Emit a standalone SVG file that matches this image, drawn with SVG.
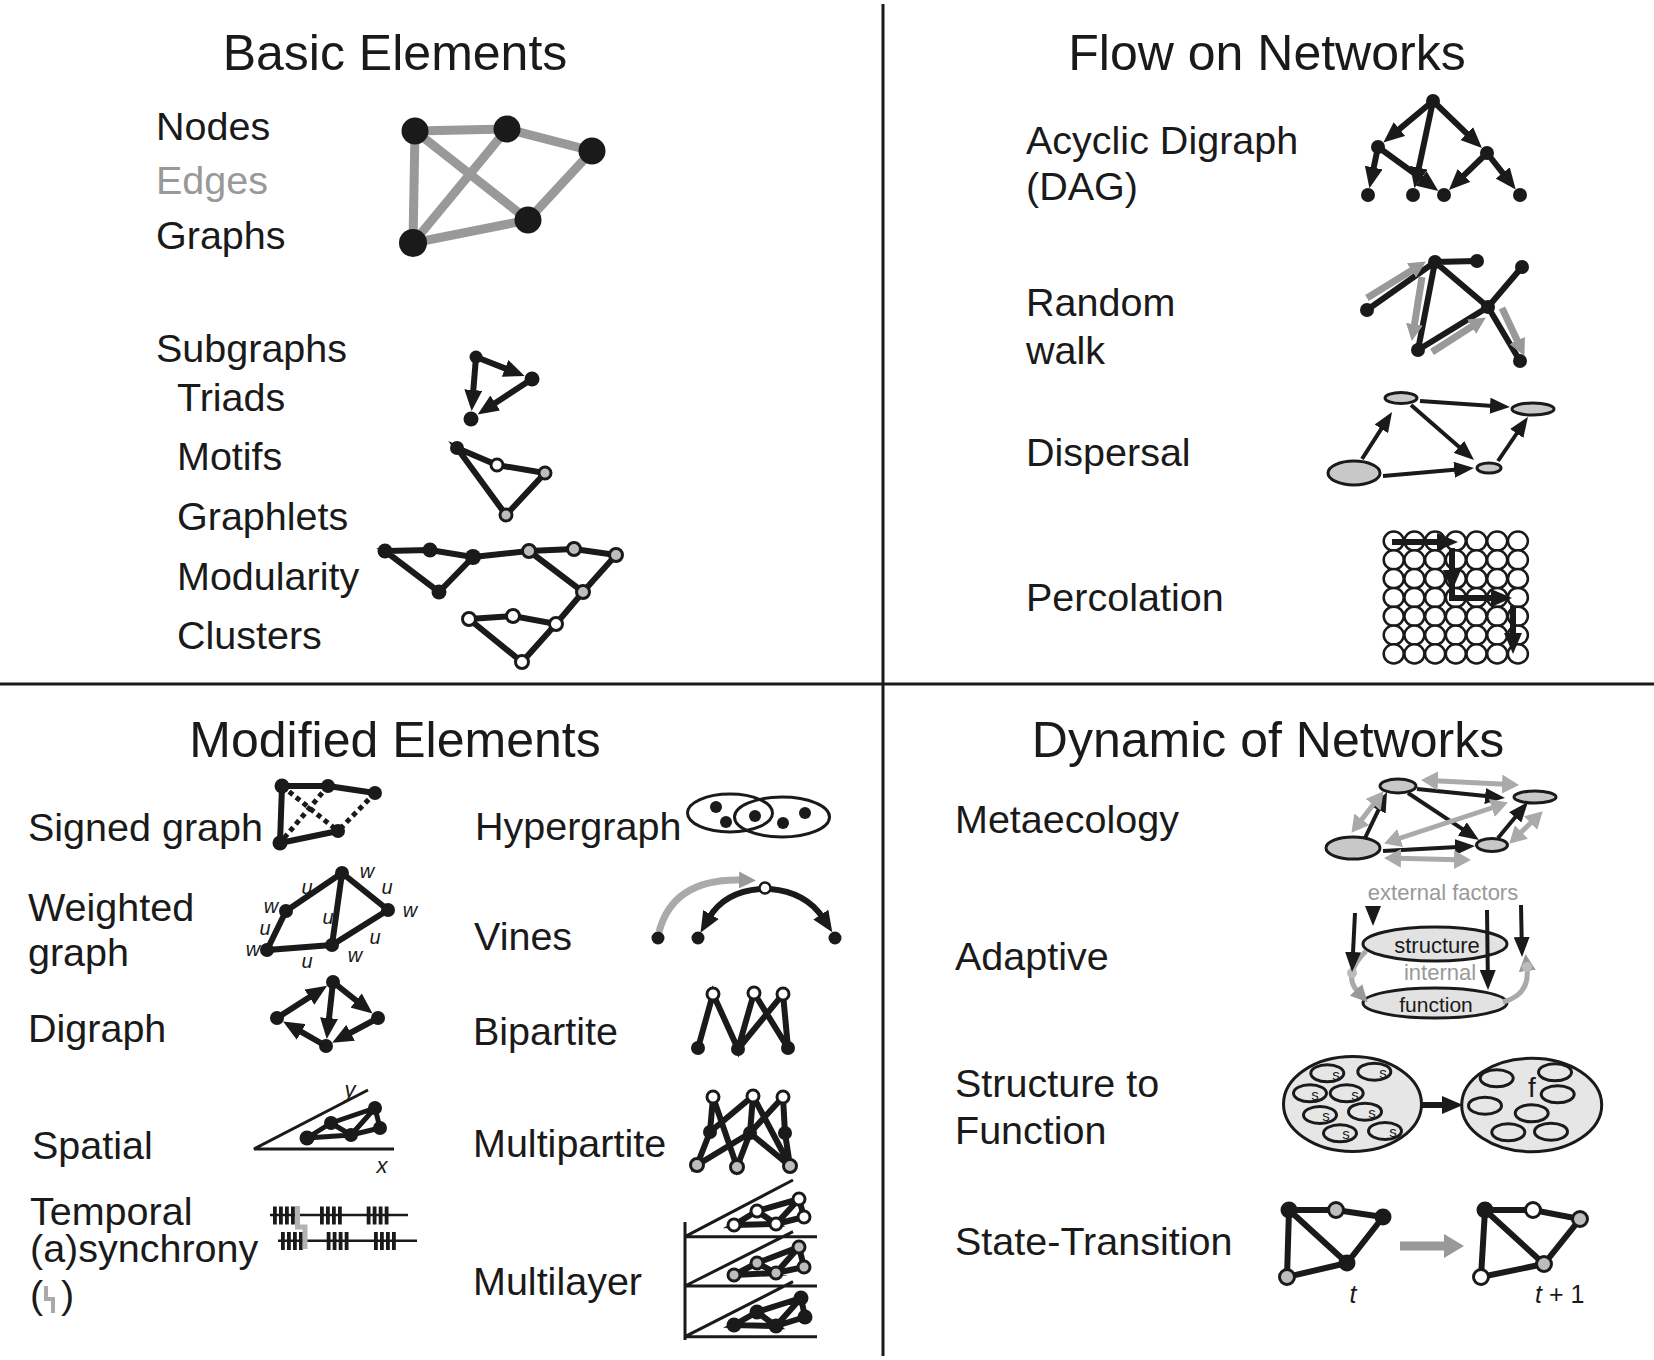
<svg xmlns="http://www.w3.org/2000/svg" width="1654" height="1360" viewBox="0 0 1654 1360">
<style>
text{font-family:"Liberation Sans",Arial,Helvetica,sans-serif;fill:#1a1a1a}
.ti{font-size:50px;text-anchor:middle}
.lb{font-size:39.5px}
.it{font-style:italic}
.k{stroke:#1a1a1a;stroke-width:6;stroke-linecap:round;fill:none}
.kb{stroke:#1a1a1a;stroke-width:6;fill:none}
.k4{stroke:#1a1a1a;stroke-width:4;fill:none}
.ge{stroke:#999;stroke-width:9;fill:none}
.ga{stroke:#999;stroke-width:7;fill:none}
.gm{stroke:#aaa;stroke-width:5;fill:none}
.nb{fill:#1a1a1a}
.nw{fill:#fff;stroke:#1a1a1a;stroke-width:3}
.ng{fill:#bdbdbd;stroke:#1a1a1a;stroke-width:3}
.el{fill:#c8c8c8;stroke:#1a1a1a;stroke-width:3}
.dv{stroke:#1a1a1a;stroke-width:3}
</style>
<defs>
<marker id="a1" markerUnits="userSpaceOnUse" markerWidth="21" markerHeight="18" refX="4" refY="9" orient="auto"><path d="M0,0 L21,9 L0,18 z" fill="#1a1a1a"/></marker>
<marker id="a2" markerUnits="userSpaceOnUse" markerWidth="20" markerHeight="16" refX="3" refY="8" orient="auto"><path d="M0,0 L20,8 L0,16 z" fill="#1a1a1a"/></marker>
<marker id="ag" markerUnits="userSpaceOnUse" markerWidth="17" markerHeight="17" refX="3" refY="8.5" orient="auto-start-reverse"><path d="M0,0 L17,8.5 L0,17 z" fill="#999"/></marker>
<marker id="agl" markerUnits="userSpaceOnUse" markerWidth="17" markerHeight="19" refX="3" refY="9.5" orient="auto-start-reverse"><path d="M0,0 L17,9.5 L0,19 z" fill="#aaa"/></marker>
<marker id="ag2" markerUnits="userSpaceOnUse" markerWidth="20" markerHeight="24" refX="3" refY="12" orient="auto"><path d="M0,0 L20,12 L0,24 z" fill="#999"/></marker>
<g id="tk" fill="#1a1a1a"><rect x="0" y="0" width="3.8" height="18"/><rect x="6" y="0" width="3.8" height="18"/><rect x="12" y="0" width="3.8" height="18"/><rect x="18" y="0" width="3.8" height="18"/></g>
<g id="row0"><ellipse cx="1393.7" cy="541.1" rx="10" ry="9.6"/><ellipse cx="1414.4" cy="541.1" rx="10" ry="9.6"/><ellipse cx="1435.1" cy="541.1" rx="10" ry="9.6"/><ellipse cx="1455.8" cy="541.1" rx="10" ry="9.6"/><ellipse cx="1476.5" cy="541.1" rx="10" ry="9.6"/><ellipse cx="1497.2" cy="541.1" rx="10" ry="9.6"/><ellipse cx="1517.9" cy="541.1" rx="10" ry="9.6"/></g>
</defs>
<rect width="1654" height="1360" fill="#fff"/>

<g id="dividers">
<line class="dv" x1="883" y1="4" x2="883" y2="1356"/>
<line class="dv" x1="0" y1="684" x2="1654" y2="684"/>
</g>

<g id="titles">
<text class="ti" x="395" y="70">Basic Elements</text>
<text class="ti" x="1267" y="70">Flow on Networks</text>
<text class="ti" x="395" y="757">Modified Elements</text>
<text class="ti" x="1268" y="757">Dynamic of Networks</text>
</g>

<g id="labels">
<text class="lb" x="156" y="140">Nodes</text>
<text class="lb" x="156" y="194" style="fill:#999">Edges</text>
<text class="lb" x="156" y="249">Graphs</text>
<text class="lb" x="156" y="362">Subgraphs</text>
<text class="lb" x="177" y="411">Triads</text>
<text class="lb" x="177" y="470">Motifs</text>
<text class="lb" x="177" y="530">Graphlets</text>
<text class="lb" x="177" y="590">Modularity</text>
<text class="lb" x="177" y="649">Clusters</text>
<text class="lb" x="1026" y="154">Acyclic Digraph</text>
<text class="lb" x="1026" y="200">(DAG)</text>
<text class="lb" x="1026" y="316">Random</text>
<text class="lb" x="1026" y="364">walk</text>
<text class="lb" x="1026" y="466">Dispersal</text>
<text class="lb" x="1026" y="611">Percolation</text>
<text class="lb" x="28" y="841">Signed graph</text>
<text class="lb" x="28" y="921">Weighted</text>
<text class="lb" x="28" y="966">graph</text>
<text class="lb" x="28" y="1042">Digraph</text>
<text class="lb" x="32" y="1159">Spatial</text>
<text class="lb" x="30" y="1225">Temporal</text>
<text class="lb" x="30" y="1262">(a)synchrony</text>
<text class="lb" x="30" y="1308">(</text>
<polyline points="46,1286 46,1299 53,1299 53,1313" fill="none" stroke="#aaa" stroke-width="4"/>
<text class="lb" x="61" y="1308">)</text>
<text class="lb" x="475" y="840">Hypergraph</text>
<text class="lb" x="474" y="950">Vines</text>
<text class="lb" x="473" y="1045">Bipartite</text>
<text class="lb" x="473" y="1157">Multipartite</text>
<text class="lb" x="473" y="1295">Multilayer</text>
<text class="lb" x="955" y="833">Metaecology</text>
<text class="lb" x="955" y="970">Adaptive</text>
<text class="lb" x="955" y="1097">Structure to</text>
<text class="lb" x="955" y="1144">Function</text>
<text class="lb" x="955" y="1255">State-Transition</text>
</g>

<g id="basic-graph">
<path class="ge" d="M415,131 L507,129 L592,151 L528,220 L413,243 Z M415,131 L528,220 M507,129 L413,243"/>
<circle class="nb" cx="415" cy="131" r="13.5"/>
<circle class="nb" cx="507" cy="129" r="13.5"/>
<circle class="nb" cx="592" cy="151" r="13.5"/>
<circle class="nb" cx="528" cy="220" r="13.5"/>
<circle class="nb" cx="413" cy="243" r="14"/>
</g>

<g id="triad">
<line class="kb" x1="476" y1="357" x2="508.8" y2="369.9" marker-end="url(#a1)"/>
<line class="kb" x1="476" y1="357" x2="473" y2="394" marker-end="url(#a1)"/>
<line class="kb" x1="532" y1="379" x2="491.9" y2="405.2" marker-end="url(#a1)"/>
<circle class="nb" cx="476" cy="357" r="6.5"/>
<circle class="nb" cx="532" cy="379" r="7.5"/>
<circle class="nb" cx="471" cy="419" r="7.5"/>
</g>

<g id="motif">
<path class="k" d="M457,448 L497,465 L545,473 L506,515 Z"/>
<circle class="nb" cx="457" cy="448" r="7"/>
<circle class="nw" cx="497" cy="465" r="6"/>
<circle class="ng" cx="545" cy="473" r="6"/>
<circle class="ng" cx="506" cy="515" r="6"/>
</g>

<g id="modularity-clusters">
<path class="k" d="M385,551 L430,550 L473,557 L439,592 Z M473,557 L529,551 L574,549 L616,555 L583,592 L529,551 M583,592 L556,624 L513,616 L469,619 L522,662 L556,624"/>
<circle class="nb" cx="385" cy="551" r="7.5"/>
<circle class="nb" cx="430" cy="550" r="7.5"/>
<circle class="nb" cx="473" cy="557" r="8"/>
<circle class="nb" cx="439" cy="592" r="7.5"/>
<circle class="ng" cx="529" cy="551" r="6.5"/>
<circle class="ng" cx="574" cy="549" r="6.5"/>
<circle class="ng" cx="616" cy="555" r="6.5"/>
<circle class="ng" cx="583" cy="592" r="6.5"/>
<circle class="nw" cx="469" cy="619" r="6.5"/>
<circle class="nw" cx="513" cy="616" r="6.5"/>
<circle class="nw" cx="556" cy="624" r="6.5"/>
<circle class="nw" cx="522" cy="662" r="6.5"/>
</g>

<g id="dag">
<line class="kb" x1="1433" y1="101" x2="1396.4" y2="131.6" marker-end="url(#a1)"/>
<line class="kb" x1="1433" y1="101" x2="1418" y2="171.6" marker-end="url(#a1)"/>
<line class="kb" x1="1378" y1="147" x2="1424.6" y2="180.9" marker-end="url(#a1)"/>
<line class="kb" x1="1378" y1="147" x2="1372.9" y2="171.5" marker-end="url(#a1)"/>
<line class="kb" x1="1433" y1="101" x2="1469.7" y2="136.3" marker-end="url(#a1)"/>
<line class="kb" x1="1487" y1="153" x2="1461.1" y2="178.2" marker-end="url(#a1)"/>
<line class="kb" x1="1487" y1="153" x2="1505.2" y2="176.1" marker-end="url(#a1)"/>
<circle class="nb" cx="1433" cy="101" r="7"/>
<circle class="nb" cx="1378" cy="147" r="7"/>
<circle class="nb" cx="1487" cy="153" r="7"/>
<circle class="nb" cx="1368" cy="195" r="7"/>
<circle class="nb" cx="1413" cy="195" r="7"/>
<circle class="nb" cx="1444" cy="195" r="7"/>
<circle class="nb" cx="1520" cy="195" r="7"/>
</g>

<g id="random-walk">
<path class="k" d="M1367,310 L1435,262 L1477,261 M1435,262 L1418,350 L1488,307 L1435,262 M1488,307 L1522,267 M1488,307 L1520,361"/>
<circle class="nb" cx="1435" cy="262" r="7"/>
<circle class="nb" cx="1477" cy="261" r="7"/>
<circle class="nb" cx="1522" cy="267" r="7"/>
<circle class="nb" cx="1367" cy="310" r="7"/>
<circle class="nb" cx="1488" cy="307" r="7"/>
<circle class="nb" cx="1418" cy="350" r="7"/>
<circle class="nb" cx="1520" cy="361" r="7"/>
<line class="ga" x1="1367" y1="298" x2="1414" y2="268.9" marker-end="url(#ag)"/>
<line class="ga" x1="1422" y1="277" x2="1414" y2="327.2" marker-end="url(#ag)"/>
<line class="ga" x1="1432" y1="352" x2="1474.1" y2="325" marker-end="url(#ag)"/>
<line class="ga" x1="1502" y1="308" x2="1518.5" y2="343.2" marker-end="url(#ag)"/>
</g>

<g id="dispersal">
<line class="k4" x1="1362" y1="459" x2="1382.9" y2="426.3" marker-end="url(#a2)"/>
<line class="k4" x1="1420" y1="401" x2="1493" y2="405.9" marker-end="url(#a2)"/>
<line class="k4" x1="1411" y1="405" x2="1461.2" y2="448.8" marker-end="url(#a2)"/>
<line class="k4" x1="1383" y1="476" x2="1457.1" y2="469.5" marker-end="url(#a2)"/>
<line class="k4" x1="1498" y1="461" x2="1518.4" y2="431" marker-end="url(#a2)"/>
<ellipse class="el" cx="1401" cy="398" rx="16" ry="5.5"/>
<ellipse class="el" cx="1533" cy="409" rx="21" ry="6"/>
<ellipse class="el" cx="1354" cy="473" rx="26" ry="12"/>
<ellipse class="el" cx="1489" cy="468" rx="12" ry="5"/>
</g>

<g id="percolation" fill="#fff" stroke="#1a1a1a" stroke-width="2.5">
<use href="#row0"/>
<use href="#row0" y="18.8"/>
<use href="#row0" y="37.6"/>
<use href="#row0" y="56.4"/>
<use href="#row0" y="75.2"/>
<use href="#row0" y="94"/>
<use href="#row0" y="112.8"/>
<line class="kb" x1="1392" y1="542" x2="1441" y2="542" stroke-width="7" marker-end="url(#a1)"/>
<line class="kb" x1="1452" y1="548" x2="1452" y2="574" stroke-width="7" marker-end="url(#a1)"/>
<line class="kb" x1="1452" y1="580" x2="1452" y2="601" stroke-width="7"/>
<line class="kb" x1="1449" y1="598" x2="1495" y2="598" stroke-width="7" marker-end="url(#a1)"/>
<line class="kb" x1="1513" y1="606" x2="1513" y2="637" stroke-width="7" marker-end="url(#a1)"/>
</g>

<g id="signed-graph">
<path class="k" d="M328,786 L282,786 L280,843 L338,831 M328,786 L375,793"/>
<path d="M282,786 L338,831 M328,786 L280,843 M375,793 L338,831" fill="none" stroke="#1a1a1a" stroke-width="5" stroke-dasharray="5 4"/>
<circle class="nb" cx="282" cy="786" r="7.5"/>
<circle class="nb" cx="328" cy="786" r="7"/>
<circle class="nb" cx="375" cy="793" r="7"/>
<circle class="nb" cx="338" cy="831" r="7"/>
<circle class="nb" cx="280" cy="843" r="7.5"/>
</g>

<g id="weighted-graph">
<path class="k" d="M342,873 L388,910 L332,945 Z M342,873 L286,911 L267,950 L332,945"/>
<circle class="nb" cx="342" cy="873" r="7"/>
<circle class="nb" cx="388" cy="910" r="7"/>
<circle class="nb" cx="332" cy="945" r="7"/>
<circle class="nb" cx="286" cy="911" r="7"/>
<circle class="nb" cx="267" cy="950" r="7"/>
<g class="it" font-size="20" text-anchor="middle">
<text x="367" y="878">w</text><text x="387" y="894">u</text><text x="410" y="917">w</text>
<text x="307" y="894">u</text><text x="328" y="924">u</text><text x="271" y="913">w</text>
<text x="265" y="935">u</text><text x="253" y="956">w</text><text x="307" y="968">u</text>
<text x="355" y="962">w</text><text x="375" y="944">u</text>
</g>
</g>

<g id="digraph">
<line class="kb" x1="277" y1="1018" x2="312.8" y2="995" marker-end="url(#a1)"/>
<line class="kb" x1="333" y1="982" x2="359.3" y2="1003" marker-end="url(#a1)"/>
<line class="kb" x1="333" y1="982" x2="328.6" y2="1022.1" marker-end="url(#a1)"/>
<line class="kb" x1="378" y1="1018" x2="347.1" y2="1034.7" marker-end="url(#a1)"/>
<line class="kb" x1="326" y1="1046" x2="297.8" y2="1029.9" marker-end="url(#a1)"/>
<circle class="nb" cx="333" cy="982" r="7"/>
<circle class="nb" cx="277" cy="1018" r="7"/>
<circle class="nb" cx="378" cy="1018" r="7"/>
<circle class="nb" cx="326" cy="1046" r="7"/>
</g>

<g id="spatial">
<path d="M394,1149 L254,1149 L368,1090" fill="none" stroke="#1a1a1a" stroke-width="3"/>
<text class="it" x="350" y="1097" font-size="22" text-anchor="middle">y</text>
<text class="it" x="382" y="1173" font-size="22" text-anchor="middle">x</text>
<path d="M307,1138 L331,1123 L351,1135 Z M351,1135 L380,1128 L375,1108 L331,1123 M351,1135 L375,1108" fill="none" stroke="#1a1a1a" stroke-width="5" stroke-linejoin="round"/>
<circle class="nb" cx="307" cy="1138" r="7.5"/>
<circle class="nb" cx="331" cy="1123" r="7"/>
<circle class="nb" cx="351" cy="1135" r="7"/>
<circle class="nb" cx="375" cy="1108" r="7"/>
<circle class="nb" cx="380" cy="1128" r="7"/>
</g>

<g id="temporal">
<line x1="270" y1="1215" x2="408" y2="1215" stroke="#1a1a1a" stroke-width="2.5"/>
<line x1="278" y1="1240.7" x2="417" y2="1240.7" stroke="#1a1a1a" stroke-width="2.5"/>
<use href="#tk" x="273" y="1206.5"/>
<use href="#tk" x="320" y="1206.5"/>
<use href="#tk" x="366.7" y="1206.5"/>
<use href="#tk" x="281" y="1232"/>
<use href="#tk" x="326.7" y="1232"/>
<use href="#tk" x="374" y="1232"/>
<polyline points="297.5,1206 297.5,1227 305,1227 305,1249" fill="none" stroke="#b3b3b3" stroke-width="5"/>
</g>

<g id="hypergraph">
<ellipse cx="730" cy="813" rx="42.5" ry="19" fill="none" stroke="#1a1a1a" stroke-width="3"/>
<ellipse cx="782" cy="817" rx="47.5" ry="20" fill="none" stroke="#1a1a1a" stroke-width="3"/>
<circle class="nb" cx="716" cy="807" r="6"/>
<circle class="nb" cx="726" cy="822" r="6"/>
<circle class="nb" cx="755" cy="816" r="6"/>
<circle class="nb" cx="783" cy="823" r="6"/>
<circle class="nb" cx="805" cy="813" r="6"/>
</g>

<g id="vines">
<path d="M659,932 Q673,878 742,880" fill="none" stroke="#aaa" stroke-width="7" marker-end="url(#ag)"/>
<path d="M760,889 Q724,892 709,918" class="kb" marker-end="url(#a1)"/>
<path d="M770,889 Q806,892 823,918" class="kb" marker-end="url(#a1)"/>
<circle class="nb" cx="658" cy="938" r="6.5"/>
<circle class="nb" cx="698" cy="938" r="6.5"/>
<circle class="nb" cx="835" cy="938" r="6.5"/>
<circle cx="765" cy="888" r="5.5" fill="#fff" stroke="#1a1a1a" stroke-width="2.5"/>
</g>

<g id="bipartite">
<path class="k" d="M698,1048 L713,994 L738,1049 L754,993 L788,1048 L783,994 L738,1049"/>
<circle class="nw" cx="713" cy="994" r="6"/>
<circle class="nw" cx="754" cy="993" r="6"/>
<circle class="nw" cx="783" cy="994" r="6"/>
<circle class="nb" cx="698" cy="1048" r="7"/>
<circle class="nb" cx="738" cy="1049" r="7"/>
<circle class="nb" cx="788" cy="1048" r="7"/>
</g>

<g id="multipartite">
<path class="k" d="M713,1097 L710,1132 L697,1165 L750,1133 L737,1167 L713,1097 M710,1132 L753,1096 L750,1133 L790,1166 L753,1096 M783,1097 L750,1133 M783,1097 L785,1133 L790,1166"/>
<circle class="nw" cx="713" cy="1097" r="6"/>
<circle class="nw" cx="753" cy="1096" r="6"/>
<circle class="nw" cx="783" cy="1097" r="6"/>
<circle class="nb" cx="710" cy="1132" r="7"/>
<circle class="nb" cx="750" cy="1133" r="7"/>
<circle class="nb" cx="785" cy="1133" r="7"/>
<circle class="ng" cx="697" cy="1165" r="6.5"/>
<circle class="ng" cx="737" cy="1167" r="6.5"/>
<circle class="ng" cx="790" cy="1166" r="6.5"/>
</g>

<g id="multilayer">
<path d="M685,1222 L685,1340 M685,1236.7 L817,1236.7 M685,1286 L817,1286 M685,1336.7 L817,1336.7 M685,1236.7 L793,1180 M685,1286 L793,1231.7 M685,1336.7 L793,1281.7" fill="none" stroke="#1a1a1a" stroke-width="3"/>
<path class="k" d="M734,1225 L757,1211 L776,1224 Z M776,1224 L804,1217 L799,1199 L757,1211 M776,1224 L799,1199 M734,1275 L757,1263 L776,1273 Z M776,1273 L804,1267 L799,1247 L757,1263 M776,1273 L799,1247 M734,1325 L757,1312 L776,1326 Z M776,1326 L805,1317 L801,1298 L757,1312 M776,1326 L801,1298" stroke-width="5"/>
<circle class="nw" cx="734" cy="1225" r="6"/><circle class="nw" cx="757" cy="1211" r="6"/><circle class="nw" cx="776" cy="1224" r="6"/><circle class="nw" cx="799" cy="1199" r="6"/><circle class="nw" cx="804" cy="1217" r="6"/>
<circle class="ng" cx="734" cy="1275" r="6"/><circle class="ng" cx="757" cy="1263" r="6"/><circle class="ng" cx="776" cy="1273" r="6"/><circle class="ng" cx="799" cy="1247" r="6"/><circle class="ng" cx="804" cy="1267" r="6"/>
<circle class="nb" cx="734" cy="1325" r="7.5"/><circle class="nb" cx="757" cy="1312" r="7.5"/><circle class="nb" cx="776" cy="1326" r="7.5"/><circle class="nb" cx="801" cy="1298" r="7.5"/><circle class="nb" cx="805" cy="1317" r="7.5"/>
</g>

<g id="metaecology">
<line class="k4" x1="1365" y1="838" x2="1379.7" y2="807.3" marker-end="url(#a2)"/>
<line class="k4" x1="1417" y1="789" x2="1488.1" y2="796.3" marker-end="url(#a2)"/>
<line class="k4" x1="1408" y1="793" x2="1464.8" y2="830.6" marker-end="url(#a2)"/>
<line class="k4" x1="1383" y1="851" x2="1458" y2="846.9" marker-end="url(#a2)"/>
<line class="k4" x1="1498" y1="838" x2="1517.1" y2="815" marker-end="url(#a2)"/>
<line class="gm" x1="1360" y1="821.7" x2="1375" y2="802.3" marker-start="url(#agl)" marker-end="url(#agl)"/>
<line class="gm" x1="1435" y1="780.7" x2="1505" y2="784.3" marker-start="url(#agl)" marker-end="url(#agl)"/>
<line class="gm" x1="1519.3" y1="834" x2="1532.7" y2="821" marker-start="url(#agl)" marker-end="url(#agl)"/>
<line class="gm" x1="1398" y1="858.3" x2="1457" y2="859.7" marker-start="url(#agl)" marker-end="url(#agl)"/>
<line class="gm" x1="1397.4" y1="839" x2="1494.6" y2="807" marker-start="url(#agl)" marker-end="url(#agl)"/>
<ellipse class="el" cx="1398" cy="786" rx="18" ry="7"/>
<ellipse class="el" cx="1535" cy="797" rx="21" ry="6"/>
<ellipse class="el" cx="1353" cy="848" rx="27" ry="11"/>
<ellipse class="el" cx="1492" cy="845" rx="15.5" ry="6.5"/>
</g>

<g id="adaptive">
<text x="1443" y="900" font-size="22" text-anchor="middle" style="fill:#999">external factors</text>
<ellipse cx="1435" cy="944" rx="72" ry="17" fill="#e2e2e2" stroke="#1a1a1a" stroke-width="3"/>
<ellipse cx="1435" cy="1003" rx="72" ry="15" fill="#e2e2e2" stroke="#1a1a1a" stroke-width="3"/>
<text x="1437" y="953" font-size="22" text-anchor="middle">structure</text>
<text x="1440" y="980" font-size="22" text-anchor="middle" style="fill:#999">internal</text>
<text x="1436" y="1012" font-size="21" text-anchor="middle">function</text>
<path d="M1366,951 Q1342,975 1358,992" fill="none" stroke="#aaa" stroke-width="5" marker-end="url(#ag)"/>
<path d="M1503,1002 Q1530,995 1527,968" fill="none" stroke="#aaa" stroke-width="5" marker-end="url(#ag)"/>
<circle cx="1352" cy="973" r="5" fill="#bbb"/>
<circle cx="1527" cy="967" r="5" fill="#bbb"/>
<line class="k4" x1="1355" y1="913" x2="1352.9" y2="955" marker-end="url(#a2)"/>
<line class="k4" x1="1373" y1="906" x2="1373" y2="909" marker-end="url(#a2)"/>
<line class="k4" x1="1487" y1="910" x2="1487.8" y2="973" marker-end="url(#a2)"/>
<line class="k4" x1="1521" y1="905" x2="1521.7" y2="940" marker-end="url(#a2)"/>
</g>

<g id="structure-function">
<ellipse cx="1352.5" cy="1104" rx="69" ry="47.5" fill="#e6e6e6" stroke="#1a1a1a" stroke-width="3"/>
<ellipse cx="1531.7" cy="1105" rx="70" ry="46.7" fill="#e6e6e6" stroke="#1a1a1a" stroke-width="3"/>
<line class="kb" x1="1422" y1="1105" x2="1446" y2="1105" stroke-width="7" marker-end="url(#a1)"/>
<g fill="none" stroke="#1a1a1a" stroke-width="3">
<ellipse cx="1327.3" cy="1073.3" rx="16.5" ry="8.5"/><ellipse cx="1374.3" cy="1071.7" rx="16.5" ry="8.5"/>
<ellipse cx="1310" cy="1093.3" rx="16.5" ry="8.5"/><ellipse cx="1346.7" cy="1093.3" rx="16.5" ry="8.5"/>
<ellipse cx="1320" cy="1115" rx="16.5" ry="8.5"/><ellipse cx="1365" cy="1111.7" rx="16.5" ry="8.5"/>
<ellipse cx="1340" cy="1133.3" rx="16.5" ry="8.5"/><ellipse cx="1385" cy="1131" rx="16.5" ry="8.5"/>
<ellipse cx="1496.7" cy="1078.3" rx="16.5" ry="8.5"/><ellipse cx="1555" cy="1072.3" rx="16.5" ry="8.5"/>
<ellipse cx="1485" cy="1105.7" rx="16.5" ry="8.5"/><ellipse cx="1557.7" cy="1094.3" rx="16.5" ry="8.5"/>
<ellipse cx="1531.7" cy="1113.3" rx="16.5" ry="8.5"/><ellipse cx="1508.3" cy="1132.3" rx="16.5" ry="8.5"/>
<ellipse cx="1551" cy="1131.7" rx="16.5" ry="8.5"/>
</g>
<g font-size="15" text-anchor="middle">
<text x="1336" y="1080">s</text><text x="1383" y="1078">s</text><text x="1315" y="1100">s</text><text x="1355" y="1100">s</text>
<text x="1326" y="1121">s</text><text x="1372" y="1118">s</text><text x="1346" y="1139">s</text><text x="1393" y="1137">s</text>
</g>
<text x="1532" y="1097" font-size="28" text-anchor="middle">f</text>
</g>

<g id="state-transition">
<path class="k" d="M1289,1210 L1336,1210 L1383,1217 L1347,1263 L1287,1277 Z M1289,1210 L1347,1263"/>
<circle class="nb" cx="1289" cy="1210" r="8.5"/>
<circle class="ng" cx="1336" cy="1210" r="7.5"/>
<circle class="nb" cx="1383" cy="1217" r="8.5"/>
<circle class="nb" cx="1347" cy="1263" r="8.5"/>
<circle class="ng" cx="1287" cy="1277" r="7.5"/>
<text class="it" x="1353" y="1303" font-size="25" text-anchor="middle">t</text>
<line x1="1400" y1="1246" x2="1447" y2="1246" stroke="#999" stroke-width="9" marker-end="url(#ag2)"/>
<path class="k" d="M1485,1210 L1533,1210 L1580,1219 L1544,1264 L1481,1277 Z M1485,1210 L1544,1264"/>
<circle class="nb" cx="1485" cy="1210" r="8.5"/>
<circle class="nw" cx="1533" cy="1210" r="7.5"/>
<circle class="ng" cx="1580" cy="1219" r="7.5"/>
<circle class="ng" cx="1544" cy="1264" r="7.5"/>
<circle class="nw" cx="1481" cy="1277" r="7.5"/>
<text class="it" x="1535" y="1303" font-size="25">t <tspan font-style="normal">+ 1</tspan></text>
</g>
</svg>
